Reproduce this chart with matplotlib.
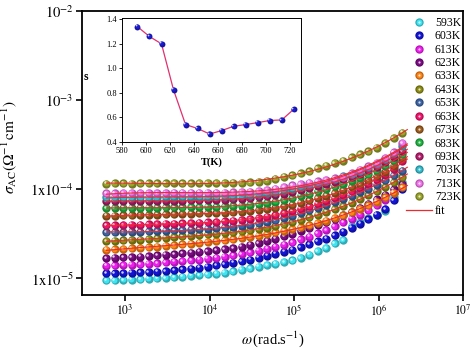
import numpy as np
import matplotlib
matplotlib.use('Agg')
import matplotlib.pyplot as plt
from matplotlib.lines import Line2D
from matplotlib.legend_handler import HandlerTuple
from matplotlib.transforms import offset_copy
from matplotlib import colors as mcolors

plt.rcParams['font.family'] = 'Liberation Serif'
plt.rcParams['mathtext.fontset'] = 'stix'

# angular frequency (rad/s)
omega = [603, 759, 955, 1202, 1514, 1905, 2399, 3020, 3802, 4786, 6026, 7586,
         9550, 12023, 15136, 19055, 23988, 30200, 38019, 47863, 60256, 75858,
         95499, 120226, 151356, 190546, 239883, 301995, 380189, 478630, 602560,
         758578, 954993, 1202264, 1513561, 1905461]

temps = [593, 603, 613, 623, 633, 643, 653, 663, 673, 683, 693, 703, 713, 723]

# conductivity in units of 1e-5 (Ohm cm)^-1
s593 = [0.95, 0.95, 0.96, 0.97, 0.98, 0.99, 1.00, 1.01, 1.03, 1.05, 1.07, 1.09,
        1.11, 1.13, 1.16, 1.20, 1.25, 1.30, 1.36, 1.41, 1.47, 1.53, 1.59, 1.70,
        1.85, 2.03, 2.20, 2.48, 2.70, 3.87, 4.26, 4.73, 5.10, 5.78, 8.20, 12.1]
s603 = [1.14, 1.14, 1.15, 1.16, 1.17, 1.18, 1.19, 1.21, 1.23, 1.26, 1.29, 1.32,
        1.36, 1.40, 1.45, 1.50, 1.56, 1.63, 1.71, 1.80, 1.89, 1.99, 2.10, 2.25,
        2.42, 2.60, 2.80, 3.05, 3.35, 3.70, 4.10, 4.60, 5.20, 6.00, 7.50, 10.0]
s613 = [1.39, 1.40, 1.41, 1.42, 1.44, 1.46, 1.48, 1.51, 1.54, 1.57, 1.60, 1.63,
        1.67, 1.71, 1.76, 1.82, 1.88, 1.96, 2.05, 2.15, 2.26, 2.38, 2.55, 2.75,
        2.95, 3.20, 3.50, 3.85, 4.25, 4.70, 5.20, 5.80, 6.60, 7.60, 9.00, 11.0]
s623 = [1.70, 1.71, 1.72, 1.74, 1.76, 1.78, 1.81, 1.84, 1.87, 1.91, 1.95, 1.99,
        2.03, 2.08, 2.14, 2.20, 2.28, 2.38, 2.50, 2.65, 2.80, 2.96, 3.15, 3.40,
        3.65, 3.95, 4.30, 4.70, 5.10, 5.60, 6.20, 6.90, 7.70, 8.70, 10.0, 11.5]
s633 = [2.10, 2.12, 2.14, 2.17, 2.20, 2.24, 2.28, 2.32, 2.36, 2.41, 2.46, 2.51,
        2.56, 2.62, 2.68, 2.75, 2.83, 2.92, 3.02, 3.14, 3.28, 3.42, 3.57, 3.75,
        3.95, 4.20, 4.45, 4.75, 5.10, 5.50, 6.00, 6.60, 7.30, 8.10, 9.20, 10.5]
s643 = [2.62, 2.64, 2.67, 2.70, 2.73, 2.77, 2.81, 2.86, 2.91, 2.96, 3.02, 3.07,
        3.12, 3.17, 3.22, 3.29, 3.37, 3.46, 3.58, 3.72, 3.88, 4.06, 4.30, 4.55,
        4.85, 5.20, 5.60, 6.00, 6.50, 7.10, 7.80, 8.60, 9.50, 10.6, 12.0, 13.6]
s653 = [3.29, 3.30, 3.32, 3.34, 3.36, 3.38, 3.40, 3.43, 3.46, 3.50, 3.54, 3.58,
        3.62, 3.67, 3.73, 3.80, 3.89, 4.00, 4.14, 4.30, 4.50, 4.75, 5.05, 5.40,
        5.80, 6.20, 6.70, 7.20, 7.80, 8.50, 9.30, 10.2, 11.3, 12.6, 14.3, 16.2]
s663 = [3.93, 3.95, 3.97, 3.99, 4.01, 4.04, 4.07, 4.10, 4.13, 4.16, 4.19, 4.23,
        4.27, 4.31, 4.36, 4.43, 4.52, 4.63, 4.77, 4.95, 5.15, 5.40, 5.70, 6.05,
        6.45, 6.90, 7.40, 8.00, 8.70, 9.50, 10.4, 11.5, 12.8, 14.5, 17.0, 21.0]
s673 = [5.05, 5.07, 5.09, 5.11, 5.13, 5.16, 5.19, 5.22, 5.25, 5.29, 5.33, 5.36,
        5.39, 5.42, 5.46, 5.52, 5.60, 5.70, 5.85, 6.02, 6.22, 6.45, 6.75, 7.10,
        7.50, 8.00, 8.50, 9.10, 9.80, 10.6, 11.5, 12.6, 14.0, 15.8, 18.5, 22.5]
s683 = [6.17, 6.18, 6.19, 6.20, 6.21, 6.22, 6.24, 6.26, 6.28, 6.30, 6.32, 6.34,
        6.37, 6.40, 6.44, 6.50, 6.58, 6.70, 6.85, 7.05, 7.30, 7.60, 8.00, 8.45,
        8.95, 9.50, 10.1, 10.8, 11.6, 12.5, 13.5, 14.7, 16.2, 18.2, 21.0, 24.7]
s693 = [7.36, 7.36, 7.37, 7.38, 7.39, 7.40, 7.42, 7.44, 7.46, 7.48, 7.50, 7.53,
        7.56, 7.60, 7.65, 7.72, 7.82, 7.95, 8.12, 8.35, 8.62, 8.95, 9.35, 9.80,
        10.3, 10.9, 11.5, 12.2, 13.0, 13.9, 15.0, 16.3, 18.0, 20.2, 23.2, 27.0]
s703 = [8.10, 8.10, 8.11, 8.12, 8.13, 8.14, 8.15, 8.17, 8.19, 8.21, 8.24, 8.27,
        8.30, 8.34, 8.39, 8.46, 8.56, 8.70, 8.88, 9.12, 9.42, 9.78, 10.2, 10.7,
        11.2, 11.8, 12.5, 13.2, 14.0, 15.0, 16.2, 17.6, 19.4, 21.8, 25.5, 31.0]
s713 = [9.00, 9.00, 9.05, 9.05, 9.10, 9.10, 9.10, 9.10, 9.15, 9.15, 9.15, 9.15,
        9.20, 9.20, 9.20, 9.25, 9.30, 9.40, 9.55, 9.80, 10.2, 10.6, 11.1, 11.5,
        11.9, 12.3, 12.7, 13.3, 13.9, 15.1, 16.6, 18.1, 19.8, 22.5, 26.0, 33.0]
s723 = [11.6, 11.7, 11.7, 11.6, 11.7, 11.7, 11.7, 11.7, 11.8, 11.7, 11.7, 11.8,
        11.8, 11.8, 11.8, 11.9, 11.9, 12.0, 12.2, 12.5, 13.2, 13.8, 14.3, 15.1,
        15.9, 17.2, 18.4, 19.7, 21.0, 22.8, 24.7, 26.7, 29.3, 33.0, 37.7, 43.1]

series = [s593, s603, s613, s623, s633, s643, s653, s663, s673, s683, s693,
          s703, s713, s723]
colors = ['#3ee4f2', '#1414d8', '#f01ef0', '#7c0c84', '#ff8414', '#8c8c14',
          '#3c64a4', '#f2146c', '#9c5c1c', '#22b442', '#b41c6c', '#32bccc',
          '#f274ea', '#9aa42a']
fitted = [633, 643, 653, 663, 673, 683, 693, 703, 713, 723]

# exponent s vs temperature (inset)
T_inset = [593, 603, 613, 623, 633, 643, 653, 663, 673, 683, 693, 703, 713, 723]
s_inset = [1.34, 1.26, 1.20, 0.825, 0.542, 0.51, 0.465, 0.493, 0.528, 0.542,
           0.558, 0.575, 0.58, 0.667]

fig = plt.figure(figsize=(4.74, 3.48), dpi=100)
ax = fig.add_axes([0.173, 0.152, 0.804, 0.816])


def mix(c, f, to=(0, 0, 0)):
    r, g, b = mcolors.to_rgb(c)
    return tuple(v * (1 - f) + t * f for v, t in zip((r, g, b), to))


def balls(a, x, y, c, s, z=3):
    # shaded sphere: darker body, lit centre up-left, small white glint
    a.scatter(x, y, s=s, color=mix(c, 0.25), linewidths=0, zorder=z)
    a.scatter(x, y, s=s * 0.5, color=c, linewidths=0, zorder=z,
              transform=offset_copy(a.transData, fig=fig, x=-0.7, y=0.7, units='dots'))
    a.scatter(x, y, s=s * 0.09, color=mix(c, 0.8, (1, 1, 1)), linewidths=0, zorder=z,
              transform=offset_copy(a.transData, fig=fig, x=-1.4, y=1.4, units='dots'))


w = np.array(omega, dtype=float)
lw_ = np.log10(w)
handles = []
labels = []
for T, vals, c in zip(temps, series, colors):
    sig = np.array(vals) * 1e-5
    balls(ax, w, sig, c, 36)
    if T in fitted:
        p = np.polyfit(lw_, np.log10(sig), 3)
        xf = np.linspace(lw_[0], 6.34, 120)
        ax.plot(10 ** xf, 10 ** np.polyval(p, xf), color='#ec2a30', lw=0.8, zorder=4)
    handles.append((Line2D([], [], ls='', marker='o', ms=6, mew=0, color=mix(c, 0.25)),
                    Line2D([], [], ls='', marker='o', ms=4.2, mew=0, color=c),
                    Line2D([], [], ls='', marker='o', ms=1.6, mew=0, color=mix(c, 0.8, (1, 1, 1)))))
    labels.append('%dK' % T)
handles.append(Line2D([], [], color='#ec2a30', lw=0.9))
labels.append('fit')

ax.set_xscale('log')
ax.set_yscale('log')
ax.set_xlim(310, 1e7)
ax.set_ylim(6.5e-6, 1e-2)
ax.set_xticks([1e3, 1e4, 1e5, 1e6, 1e7])
ax.set_xticklabels([r'$10^{3}$', r'$10^{4}$', r'$10^{5}$', r'$10^{6}$', r'$10^{7}$'])
ax.set_yticks([1e-5, 1e-4, 1e-3, 1e-2])
ax.set_yticklabels([r'$1\mathrm{x}10^{-5}$', r'$1\mathrm{x}10^{-4}$', r'$10^{-3}$', r'$10^{-2}$'])
ax.xaxis.set_minor_locator(matplotlib.ticker.NullLocator())
ax.yaxis.set_minor_locator(matplotlib.ticker.NullLocator())
ax.tick_params(axis='both', direction='out', length=4, width=1.2, top=False, right=False)
ax.tick_params(axis='x', labelsize=8.5, pad=2)
ax.tick_params(axis='y', labelsize=10.5, pad=2)
for sp in ax.spines.values():
    sp.set_linewidth(1.3)

ax.set_xlabel(r'$\omega\,$(rad.s$^{-1}$)', fontsize=10.5)
ax.xaxis.set_label_coords(0.501, -0.12)
ax.set_ylabel(r'$\sigma_{\mathrm{AC}}(\Omega^{-1}\,\mathrm{cm}^{-1})$', fontsize=11)
ax.yaxis.set_label_coords(-0.165, 0.52)

ax.legend(handles, labels, handler_map={tuple: HandlerTuple(ndivide=1)},
          loc='upper left', bbox_to_anchor=(0.85, 0.98), frameon=False,
          fontsize=8.5, borderpad=0, borderaxespad=0, handlelength=2.2,
          handletextpad=0.25, labelspacing=0.12)

# inset: s vs T
axin = fig.add_axes([0.257, 0.592, 0.378, 0.356])
axin.plot(T_inset, s_inset, color='#e2306e', lw=0.9, zorder=2)
balls(axin, T_inset, s_inset, '#1c1cd6', 18)
axin.set_xlim(580, 729)
axin.set_ylim(0.4, 1.41)
axin.set_xticks(range(580, 721, 20))
axin.set_yticks([0.4, 0.6, 0.8, 1.0, 1.2, 1.4])
axin.tick_params(axis='both', direction='out', length=2, width=0.6, labelsize=6, pad=1.5)
for sp in axin.spines.values():
    sp.set_linewidth(0.7)
axin.set_xlabel('T(K)', fontsize=7.5, fontweight='bold', labelpad=2)
axin.set_ylabel('s', fontsize=8.5, fontweight='bold', rotation=0)
axin.yaxis.set_label_coords(-0.2, 0.48)

fig.savefig('out.png', dpi=100)
